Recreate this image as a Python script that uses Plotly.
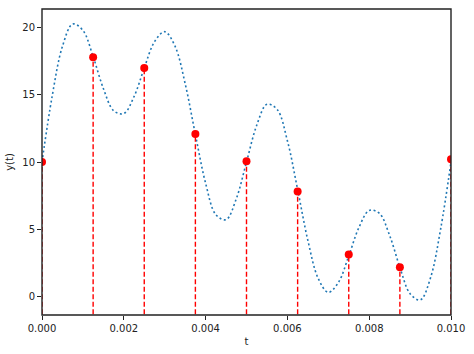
import plotly.graph_objects as go

# Continuous signal y(t), every 0.00025 s
t_curve = [i * 0.00025 for i in range(41)]
y_curve = [10.0, 14.93, 18.62, 20.28, 19.81, 17.85, 15.48, 13.83, 13.61, 14.87,
           17.0, 18.96, 19.71, 18.65, 15.84, 12.05, 8.42, 6.08, 5.70, 7.26,
           10.0, 12.74, 14.30, 13.92, 11.58, 7.95, 4.16, 1.35, 0.29, 1.04,
           3.0, 5.13, 6.39, 6.17, 4.52, 2.15, 0.19, -0.28, 1.38, 5.07, 10.0]

# Samples
t_samp = [0.0, 0.00125, 0.0025, 0.00375, 0.005, 0.00625, 0.0075, 0.00875, 0.01]
y_samp = [10.0, 17.8, 17.0, 12.08, 10.05, 7.8, 3.1, 2.16, 10.2]

x_ticks = [0.0, 0.002, 0.004, 0.006, 0.008, 0.010]
y_ticks = [0, 5, 10, 15, 20]
y_lo, y_hi = -1.4, 21.4

stem_x, stem_y = [], []
for tx, ty in zip(t_samp, y_samp):
    stem_x += [tx, tx, None]
    stem_y += [y_lo - 0.5, ty, None]

fig = go.Figure()
fig.add_trace(go.Scatter(x=t_curve, y=y_curve, mode="lines",
                         line=dict(color="#1f77b4", width=1.6, dash="2px,2.6px", shape="spline"),
                         hoverinfo="skip", showlegend=False))
fig.add_trace(go.Scatter(x=stem_x, y=stem_y, mode="lines",
                         line=dict(color="#ff0000", width=1.4, dash="5px,2.5px"),
                         showlegend=False, hoverinfo="skip"))
fig.add_trace(go.Scatter(x=t_samp, y=y_samp, mode="markers",
                         marker=dict(color="#ff0000", size=8),
                         cliponaxis=True, showlegend=False))

axis_common = dict(showline=False,
                   ticks="outside", ticklen=4, tickcolor="#222222", tickwidth=1,
                   showgrid=False, zeroline=False,
                   tickfont=dict(family="DejaVu Sans", size=10, color="#222222"))

fig.update_layout(
    width=474, height=354,
    margin=dict(l=40, r=22, t=9, b=38),
    plot_bgcolor="white", paper_bgcolor="white",
    xaxis=dict(range=[0, 0.01], tickvals=x_ticks, tickformat=".3f",
               title=dict(text="t", standoff=4,
                          font=dict(family="DejaVu Sans", size=10, color="#222222")),
               **axis_common),
    yaxis=dict(range=[y_lo, y_hi], tickvals=y_ticks,
               title=dict(text="y(t)", standoff=6,
                          font=dict(family="DejaVu Sans", size=10, color="#222222")),
               **axis_common),
    shapes=[dict(type="rect", xref="paper", yref="paper", x0=0, x1=1, y0=0, y1=1,
                 line=dict(color="#222222", width=1.4), layer="above")],
)

fig.write_html("out.html")
